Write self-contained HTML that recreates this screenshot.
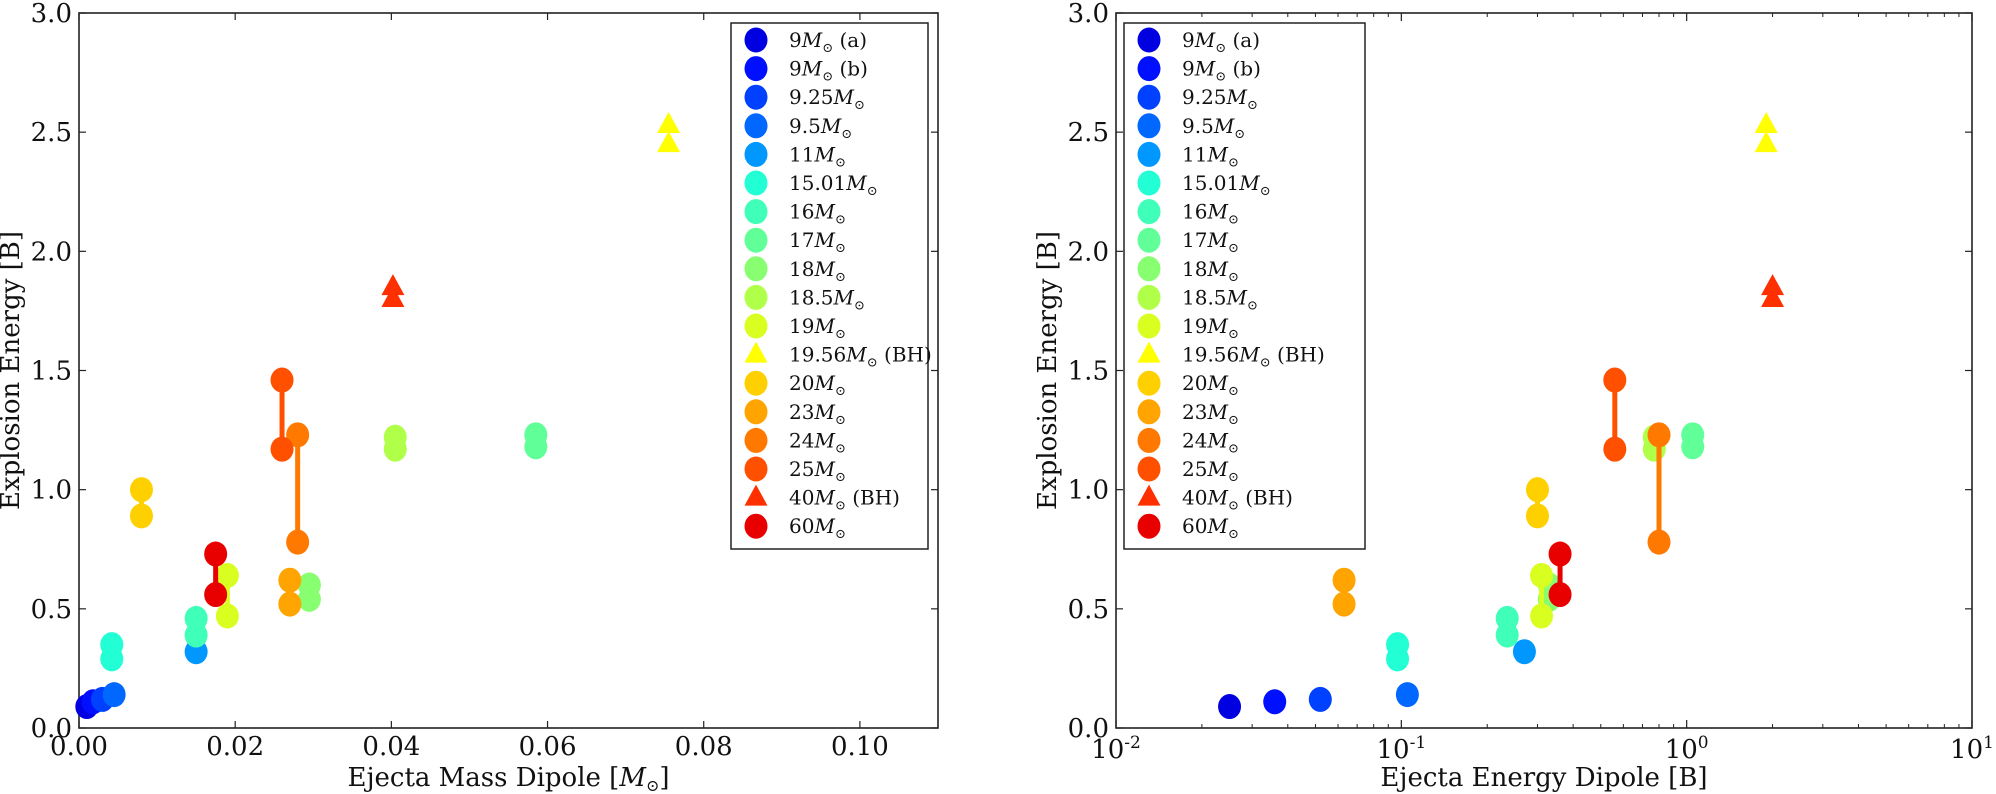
<!DOCTYPE html>
<html><head><meta charset="utf-8"><style>
html,body{margin:0;padding:0;background:#fff;}
svg{display:block;font-family:"DejaVu Serif","Liberation Serif",serif;}
</style></head><body>
<svg id="s" width="1996" height="794" xmlns="http://www.w3.org/2000/svg"></svg>
<script>
const S=document.getElementById('s');let h='';
const Y0=728,YT=13,YS=(Y0-YT)/3;
const col={a:'#0000e0',b:'#0010ff',c:'#0040ff',d:'#0068ff',e:'#0098ff',f:'#22ffd5',g:'#40ffb8',h:'#60ff98',i:'#88ff70',j:'#b0ff48',k:'#d8ff20',l:'#ffff00',m:'#ffd000',n:'#ffa400',o:'#ff7800',p:'#ff5000',q:'#ff3000',r:'#e80000'};
const labels=[['a','9','(a)',0],['b','9','(b)',0],['c','9.25','',0],['d','9.5','',0],['e','11','',0],['f','15.01','',0],['g','16','',0],['h','17','',0],['i','18','',0],['j','18.5','',0],['k','19','',0],['l','19.56','(BH)',1],['m','20','',0],['n','23','',0],['o','24','',0],['p','25','',0],['q','40','(BH)',1],['r','60','',0]];
const D=[['a',0.0010,0.025,0.09,null],['b',0.0018,0.036,0.11,null],['c',0.0030,0.052,0.12,null],['d',0.0045,0.105,0.14,null],['e',0.0150,0.27,0.32,null],
['f',0.0042,0.097,0.35,0.29],['g',0.0150,0.235,0.46,0.39],['h',0.0585,1.05,1.23,1.18],['i',0.0295,0.33,0.60,0.54],['j',0.0405,0.77,1.22,1.17],['k',0.0190,0.31,0.64,0.47],
['m',0.0080,0.30,1.00,0.89],['n',0.0270,0.063,0.62,0.52],['o',0.0280,0.80,1.23,0.78],['p',0.0260,0.56,1.46,1.17],['r',0.0175,0.36,0.73,0.56],
['l',0.0755,1.9,2.53,2.45],['q',0.0402,2.0,1.85,1.80]];
const yp=v=>Y0-v*YS;
function axes(x0,x1,tx,lab){
 h+=`<rect x="${x0}" y="${YT}" width="${x1-x0}" height="${Y0-YT}" fill="none" stroke="#222" stroke-width="1.6"/>`;
 for(let i=0;i<=6;i++){const y=yp(i*0.5);
  h+=`<line x1="${x0}" x2="${x0+7}" y1="${y}" y2="${y}" stroke="#222" stroke-width="1.2"/><line x1="${x1}" x2="${x1-7}" y1="${y}" y2="${y}" stroke="#222" stroke-width="1.2"/>`;
  h+=`<text x="${x0-7}" y="${y+9}" font-size="26" text-anchor="end" fill="#111">${(i*0.5).toFixed(1)}</text>`;}
 h+=`<text transform="translate(${x0-60},${(Y0+YT)/2}) rotate(-90)" font-size="26" text-anchor="middle" fill="#111">Explosion Energy [B]</text>`;
 h+=`<text x="${(x0+x1)/2}" y="786" font-size="26" text-anchor="middle" fill="#111">${lab}</text>`;
}
function marker(k,x,y,tri){const c=col[k];
 if(tri) return `<polygon points="${x},${y-13} ${x-11.5},${y+8} ${x+11.5},${y+8}" fill="${c}"/>`;
 return `<ellipse cx="${x}" cy="${y}" rx="11.5" ry="12.5" fill="${c}"/>`;}
function plot(xf,idx){
 for(const d of D){const x=xf(d[idx]);const tri=(d[0]=='l'||d[0]=='q');
  if(d[4]!=null&&!tri) h+=`<line x1="${x}" x2="${x}" y1="${yp(d[3])}" y2="${yp(d[4])}" stroke="${col[d[0]]}" stroke-width="5"/>`;
  h+=marker(d[0],x,yp(d[3]),tri); if(d[4]!=null) h+=marker(d[0],x,yp(d[4]),tri);}
}
function legend(lx,rx){
 h+=`<rect x="${lx}" y="23" width="${rx-lx}" height="526" fill="#fff" stroke="#222" stroke-width="1.5"/>`;
 labels.forEach((L,i)=>{const y=40+i*28.6;h+=marker(L[0],lx+25,y,L[3]);
  h+=`<text x="${lx+58}" y="${y+7}" font-size="20" fill="#111">${L[1]}<tspan font-style="italic">M</tspan><tspan font-size="13" dy="5">⊙</tspan><tspan dy="-5">${L[2]?' '+L[2]:''}</tspan></text>`;});
}
const LX0=79,LX1=938,lx=v=>LX0+v/0.11*(LX1-LX0);
axes(LX0,LX1,0,'Ejecta Mass Dipole [<tspan font-style="italic">M</tspan><tspan font-size="16" dy="5">⊙</tspan><tspan dy="-5">]</tspan>');
for(let i=0;i<=5;i++){const x=lx(i*0.02);
 h+=`<line x1="${x}" x2="${x}" y1="${Y0}" y2="${Y0-7}" stroke="#222" stroke-width="1.2"/><line x1="${x}" x2="${x}" y1="${YT}" y2="${YT+7}" stroke="#222" stroke-width="1.2"/>`;
 h+=`<text x="${x}" y="${Y0+27}" font-size="26" text-anchor="middle" fill="#111">${(i*0.02).toFixed(2)}</text>`;}
plot(lx,1);
legend(731,928);
const RX0=1116,RX1=1972,rx=v=>RX0+(Math.log10(v)+2)/3*(RX1-RX0);
axes(RX0,RX1,0,'Ejecta Energy Dipole [B]');
for(let e=-2;e<=1;e++){const x=rx(Math.pow(10,e));
 h+=`<line x1="${x}" x2="${x}" y1="${Y0}" y2="${Y0-8}" stroke="#222" stroke-width="1.2"/><line x1="${x}" x2="${x}" y1="${YT}" y2="${YT+8}" stroke="#222" stroke-width="1.2"/>`;
 h+=`<text x="${x}" y="${Y0+30}" font-size="26" text-anchor="middle" fill="#111">10<tspan font-size="17" dy="-10">${e}</tspan></text>`;
 if(e<1)for(let m=2;m<=9;m++){const xm=rx(m*Math.pow(10,e));
  h+=`<line x1="${xm}" x2="${xm}" y1="${Y0}" y2="${Y0-4}" stroke="#222" stroke-width="1"/><line x1="${xm}" x2="${xm}" y1="${YT}" y2="${YT+4}" stroke="#222" stroke-width="1"/>`;}}
plot(rx,2);
legend(1124,1365);
S.innerHTML=h;
</script>
</body></html>
